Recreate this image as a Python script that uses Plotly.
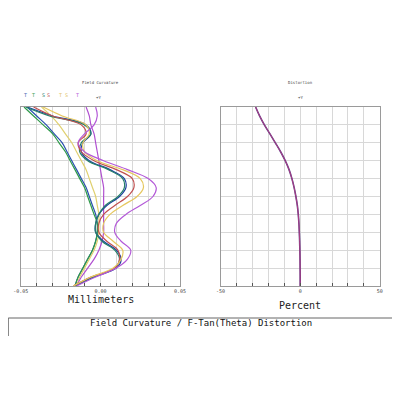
import plotly.graph_objects as go

# field (normalised +Y) for all curves
field = [0, .05, .1, .15, .2, .25, .3, .35, .4, .45, .5, .55, .6, .65, .7, .75, .8, .85, .9, .95, 1]

# field curvature (mm)
blue_t = [-.016, -.004, .010, .013, .010, .002, -.003, -.003, -.001, .004, .012, .016, .015, .006, -.007, -.012, -.011, -.006, -.009, -.030, -.046]
green_t = [-.016, -.005, .009, .012, .009, .001, -.003, -.003, -.001, .003, .011, .015, .014, .005, -.008, -.013, -.012, -.006, -.010, -.032, -.047]
red_t = [-.017, -.006, .009, .012, .011, .004, -.001, -.001, .002, .009, .017, .021, .020, .010, -.004, -.012, -.014, -.009, -.012, -.030, -.042]
yellow_t = [-.017, -.006, .008, .013, .014, .008, .002, .002, .006, .014, .023, .027, .025, .014, -.002, -.010, -.011, -.007, -.009, -.024, -.036]
purple_t = [-.015, -.003, .010, .017, .019, .013, .009, .010, .016, .025, .033, .035, .030, .017, .002, -.010, -.014, -.010, -.004, -.002, -.003]
blue_s = [-.016, -.014, -.011, -.008, -.005, -.003, -.002, -.002, -.003, -.005, -.007, -.009, -.012, -.015, -.018, -.021, -.024, -.029, -.034, -.040, -.046]
green_s = [-.016, -.014, -.011, -.008, -.005, -.003, -.002, -.002, -.004, -.006, -.008, -.010, -.013, -.016, -.019, -.022, -.026, -.030, -.036, -.042, -.048]
yellow_s = [-.015, -.013, -.010, -.007, -.004, -.002, -.001, -.001, -.001, -.002, -.003, -.005, -.007, -.009, -.012, -.015, -.018, -.022, -.026, -.031, -.037]
purple_s = [-.015, -.012, -.008, -.004, -.001, .001, .002, .002, .002, .002, .002, .002, .001, .000, -.001, -.002, -.003, -.004, -.006, -.007, -.009]

# distortion (%)
distortion = [0, 0, -.05, -.1, -.2, -.35, -.55, -.8, -1.2, -1.8, -2.7, -3.8, -5.2, -7, -9.4, -12.3, -15.6, -19, -22.5, -25.5, -28]

curves = [
    (blue_s, '#2a52b0'), (green_s, '#2f9a4a'), (yellow_s, '#e0d070'), (purple_s, '#b050d0'),
    (blue_t, '#1f3f9f'), (green_t, '#26806a'), (red_t, '#c05050'), (yellow_t, '#e6c860'), (purple_t, '#b45ad8'),
]

fig = go.Figure()
for xs, c in curves:
    fig.add_trace(go.Scatter(x=xs, y=field, mode='lines', line=dict(color=c, width=1.2, shape='spline'),
                             xaxis='x', yaxis='y', showlegend=False))
fig.add_trace(go.Scatter(x=distortion, y=field, mode='lines', line=dict(color='#5a3a8a', width=1.6, shape='spline'),
                         xaxis='x2', yaxis='y2', showlegend=False))
fig.add_trace(go.Scatter(x=distortion, y=field, mode='lines', line=dict(color='#c04080', width=0.8, shape='spline'),
                         xaxis='x2', yaxis='y2', showlegend=False))

grid = dict(showgrid=True, gridcolor='#d8d8d8', gridwidth=1, zeroline=False, showline=True,
            linecolor='#9a9a9a', mirror=True, ticks='inside', ticklen=3, tickcolor='#555',
            tickfont=dict(size=5, color='#444', family='DejaVu Sans Mono'))
mm_ticks = [round(-0.05 + 0.01 * i, 2) for i in range(11)]
mm_text = ['-0.05' if i == 0 else '0.00' if i == 5 else '0.05' if i == 10 else '' for i in range(11)]
pc_ticks = [-50 + 10 * i for i in range(11)]
pc_text = ['-50' if i == 0 else '0' if i == 5 else '50' if i == 10 else '' for i in range(11)]
y_ticks = [i / 10 for i in range(11)]

fig.update_layout(
    width=400, height=400, margin=dict(l=0, r=0, t=0, b=0),
    paper_bgcolor='white', plot_bgcolor='white',
    xaxis=dict(grid, domain=[0.0125, 0.425], range=[-0.05, 0.05], tickvals=mm_ticks, ticktext=mm_text),
    yaxis=dict(grid, domain=[0.305, 0.7525], range=[0, 1], tickvals=y_ticks, showticklabels=False, ticks=''),
    xaxis2=dict(grid, domain=[0.53, 0.9425], range=[-50, 50], tickvals=pc_ticks, ticktext=pc_text, anchor='y2'),
    yaxis2=dict(grid, domain=[0.305, 0.7525], range=[0, 1], tickvals=y_ticks, showticklabels=False, ticks='', anchor='x2'),
)

mono = 'DejaVu Sans Mono'
ann = [
    (0.219, 1 - 70 / 400, 'Field Curvature', 4, '#444'),
    (0.736, 1 - 70 / 400, 'Distortion', 4, '#444'),
    (0.215, 1 - 85 / 400, '+Y', 4, '#444'),
    (0.736, 1 - 85 / 400, '+Y', 4, '#444'),
    (0.219, 1 - 299 / 400, 'Millimeters', 10, '#222'),
    (0.736, 1 - 305 / 400, 'Percent', 10, '#222'),
    (0.48, 1 - 322 / 400, 'Field Curvature / F-Tan(Theta) Distortion', 9, '#111'),
]
for x, y, t, s, c in ann:
    fig.add_annotation(x=x, y=y, xref='paper', yref='paper', text=t, showarrow=False, xanchor='center',
                       font=dict(size=s, color=c, family=mono))
legend = [('T', '#3a5fb0', 0.025), ('T', '#2f9a4a', 0.045), ('S', '#26806a', 0.07), ('S', '#c05050', 0.085),
          ('T', '#e0c060', 0.115), ('S', '#e0c060', 0.13), ('T', '#b45ad8', 0.16)]
for t, c, x in legend:
    fig.add_annotation(x=x, y=1 - 82 / 400, xref='paper', yref='paper', text=t, showarrow=False, xanchor='center',
                       font=dict(size=5, color=c, family=mono))

fig.add_shape(type='path', xref='paper', yref='paper',
              path='M -0.02,0.18 L -0.02,0.225 L 1.0,0.225 L 1.0,0.18',
              line=dict(color='#666', width=1))

fig.write_html('out.html')
